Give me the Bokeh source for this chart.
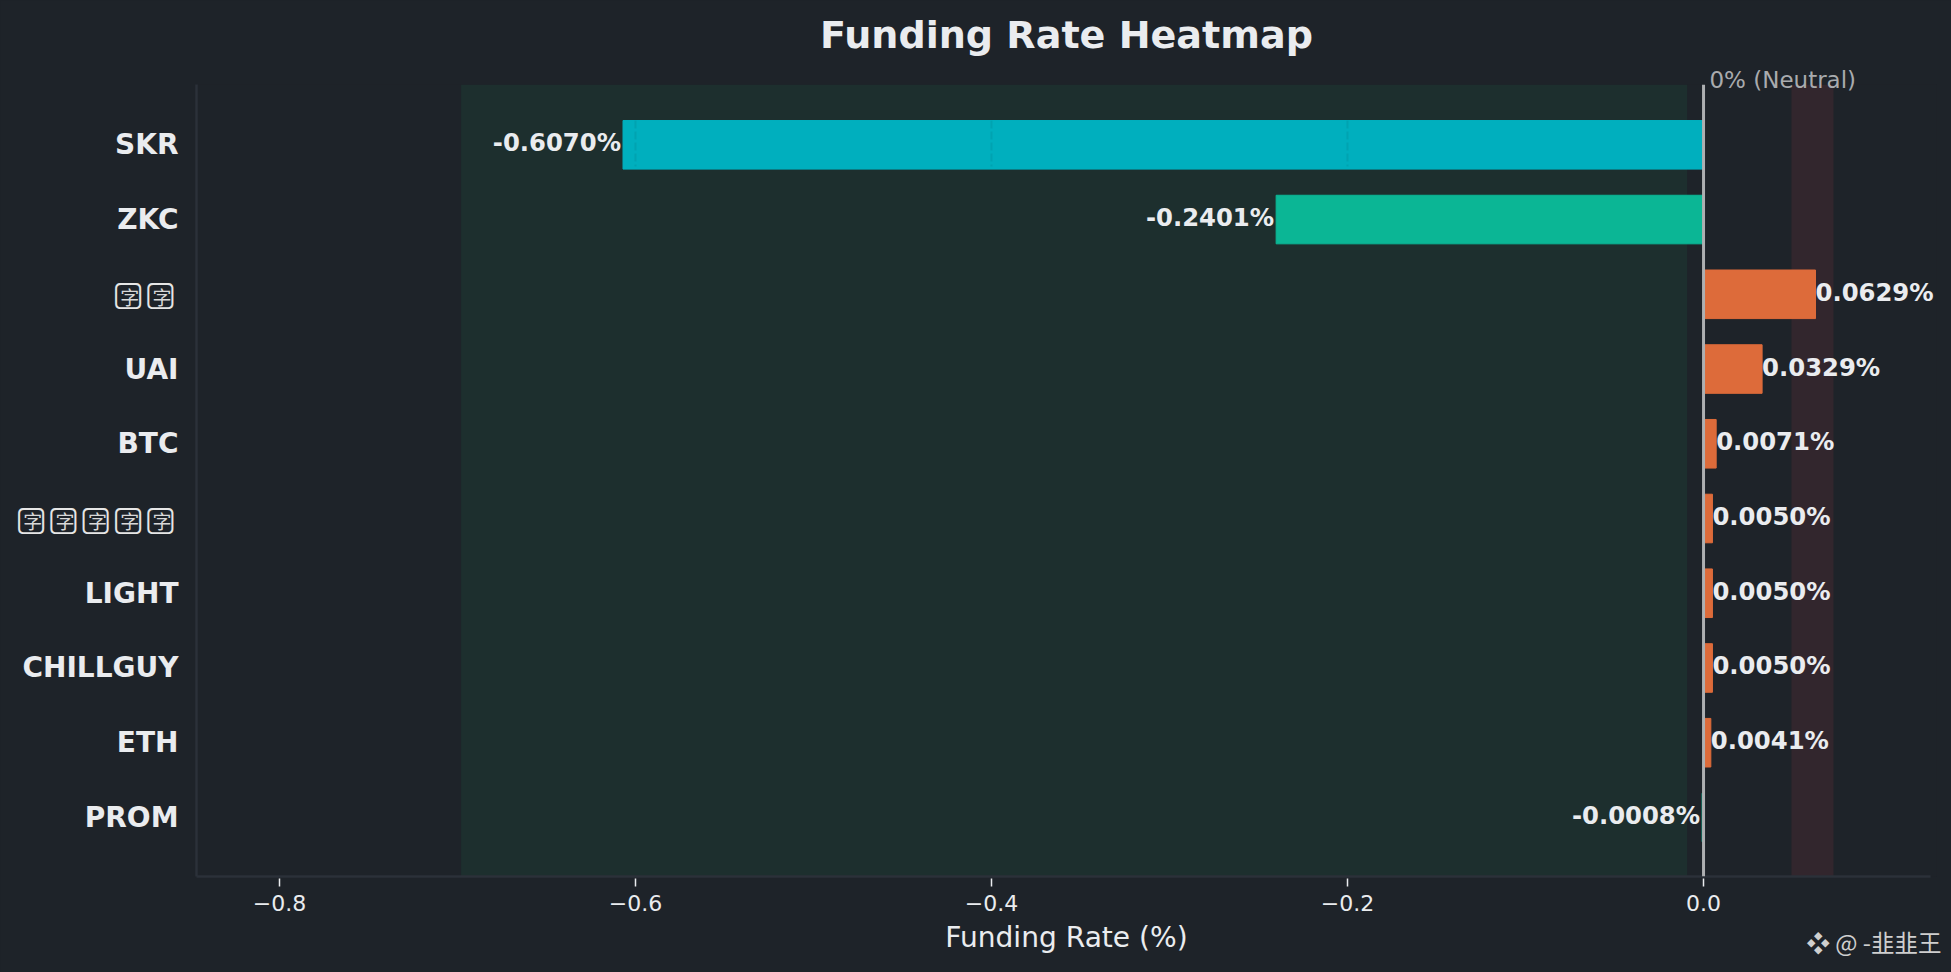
from bokeh.plotting import figure
from bokeh.embed import file_html
from bokeh.resources import INLINE
from bokeh.models import (BoxAnnotation, Span, LabelSet, LinearAxis, Range1d, FixedTicker,
                          ColumnDataSource, GlobalInlineStyleSheet, Title)
from bokeh.core.properties import value

symbols = ["SKR", "ZKC", "字字", "UAI", "BTC", "字字字字字", "LIGHT", "CHILLGUY", "ETH", "PROM"]
rates = [-0.6070, -0.2401, 0.0629, 0.0329, 0.0071, 0.0050, 0.0050, 0.0050, 0.0041, -0.0008]
colors = ["#00afbe", "#0bb695", "#dd6b3a", "#dd6b3a", "#dd6b3a", "#dd6b3a", "#dd6b3a",
          "#dd6b3a", "#dd6b3a", "#0bb695"]
labels = ["-0.6070%", "-0.2401%", "0.0629%", "0.0329%", "0.0071%", "0.0050%", "0.0050%",
          "0.0050%", "0.0041%", "-0.0008%"]
x_ticks = [-0.8, -0.6, -0.4, -0.2, 0.0]
x_tick_labels = {-0.8: "\u22120.8", -0.6: "\u22120.6", -0.4: "\u22120.4", -0.2: "\u22120.2", 0.0: "0.0"}
skr_dash_x = [-0.6, -0.4, -0.2]
negative_band = (-0.698, -0.0092)
positive_band = (0.0494, 0.0730)
neutral_text = "0% (Neutral)"
watermark_text = "\u2756 @ -韭韭王"

BG = "#1e2329"
FG = "#eaecef"
SPINE = "#2b3139"
BAR_HEIGHT = 0.65
X_START, X_END, X_SPINE_END = -0.8466, 0.13087, 0.1275

y_pos = list(range(len(symbols)))

p = figure(frame_width=1740, frame_height=792, output_backend="svg", toolbar_location=None,
           x_range=Range1d(X_START, X_END), y_range=Range1d(9.79, -0.807),
           background_fill_color=BG, border_fill_color=BG, outline_line_color=None,
           min_border_left=196, min_border_right=15, min_border_top=84, min_border_bottom=96)

p.stylesheets = [GlobalInlineStyleSheet(css=f"body{{background:{BG};}}")]

p.title = Title(text="Funding Rate Heatmap", align="center", offset=-3, text_color=FG,
                text_font="DejaVu Sans", text_font_size="38.1px", text_font_style="bold",
                standoff=13)

p.add_layout(BoxAnnotation(left=negative_band[0], right=negative_band[1], fill_color="#1d2f2e",
                           fill_alpha=1, line_color=None, level="underlay"))
p.add_layout(BoxAnnotation(left=positive_band[0], right=positive_band[1], fill_color="#32262d",
                           fill_alpha=1, line_color=None, level="underlay"))

src = ColumnDataSource(dict(y=y_pos, rate=rates, color=colors, zero=[0.0] * len(rates)))
p.hbar(y="y", left="zero", right="rate", height=BAR_HEIGHT, color="color", source=src)

# faint dashed marks that only show inside the SKR bar
p.segment(x0=skr_dash_x, x1=skr_dash_x,
          y0=[y_pos[0] - BAR_HEIGHT / 2] * len(skr_dash_x), y1=[y_pos[0] + 0.29] * len(skr_dash_x),
          line_color="#00a3b1", line_width=2, line_dash="8 3")

# value labels, split by side of zero
neg = ColumnDataSource(dict(y=[i for i, r in zip(y_pos, rates) if r < 0],
                            rate=[r for r in rates if r < 0],
                            label=[l for l, r in zip(labels, rates) if r < 0]))
pos = ColumnDataSource(dict(y=[i for i, r in zip(y_pos, rates) if r >= 0],
                            rate=[r for r in rates if r >= 0],
                            label=[l for l, r in zip(labels, rates) if r >= 0]))
for s, align, off in ((neg, "right", -2), (pos, "left", 0)):
    p.add_layout(LabelSet(x="rate", y="y", text="label", source=s, text_color=FG, text_align=align,
                          text_baseline="middle", x_offset=off, y_offset=2,
                          text_font=value("DejaVu Sans"), text_font_size="24.3px",
                          text_font_style="bold"))

p.add_layout(Span(location=0, dimension="height", line_color="#adafb1", line_width=3))

p.xgrid.grid_line_color = None
p.ygrid.grid_line_color = None

xa = p.xaxis[0]
xa.ticker = FixedTicker(ticks=x_ticks)
xa.major_label_overrides = x_tick_labels
xa.bounds = (X_START, X_SPINE_END)
xa.axis_label = "Funding Rate (%)"
xa.axis_label_text_color = FG
xa.axis_label_text_font = "DejaVu Sans"
xa.axis_label_text_font_size = "28.1px"
xa.axis_label_text_font_style = "normal"
xa.axis_label_standoff = 7
xa.major_label_text_color = FG
xa.major_label_text_font = "DejaVu Sans"
xa.major_label_text_font_size = "22px"
xa.major_label_standoff = 8
xa.axis_line_color = SPINE
xa.axis_line_width = 2.5
xa.major_tick_line_color = FG
xa.major_tick_line_width = 1.5
xa.major_tick_in = -2
xa.major_tick_out = 10
xa.minor_tick_line_color = None

ya = p.yaxis[0]
ya.ticker = FixedTicker(ticks=y_pos)
ya.major_label_overrides = {i: ("" if "字" in s else s) for i, s in zip(y_pos, symbols)}
ya.major_label_text_color = FG
ya.major_label_text_font = "DejaVu Sans"
ya.major_label_text_font_size = "28px"
ya.major_label_text_font_style = "bold"
ya.major_label_standoff = 13
ya.axis_line_color = SPINE
ya.axis_line_width = 2.5
ya.major_tick_line_color = None
ya.major_tick_in = 0
ya.major_tick_out = 5
ya.minor_tick_line_color = None


def text_axis(ticks, texts, standoff, color, font, size, side):
    """An axis without line or ticks that only carries text outside the frame."""
    ax = LinearAxis(ticker=FixedTicker(ticks=ticks), major_label_overrides=dict(zip(ticks, texts)),
                    major_label_standoff=standoff, major_label_text_color=color,
                    major_label_text_font=font, major_label_text_font_size=size,
                    axis_line_color=None, major_tick_line_color=None, minor_tick_line_color=None,
                    major_tick_in=0, major_tick_out=0)
    p.add_layout(ax, side)
    return ax


# names that the reference shows as boxed placeholder glyphs: characters, then their boxes
char_ticks = [y_pos[2] + 0.027, y_pos[5] + 0.027]
box_ticks = [y_pos[2] - 0.013, y_pos[5] - 0.013]
text_axis(char_ticks, ["\u2002\u2009".join("字" * 2), "\u2002\u2009".join("字" * 5)],
          -152, "#d8d8d8", "Noto Sans CJK SC", "19px", "left")
text_axis(box_ticks, ["\u25a2" * 2, "\u25a2" * 5],
          -157, "#e6e6e6", "DejaVu Sans", "34.2px", "left")

text_axis([0.0445], [neutral_text], -8, "#a9abae", "DejaVu Sans", "23px", "above")
text_axis([0.0958], [watermark_text], -32, "#cfcfcf", "Noto Sans CJK SC", "23.5px", "below")

open("out.html", "w").write(file_html(p, INLINE))
